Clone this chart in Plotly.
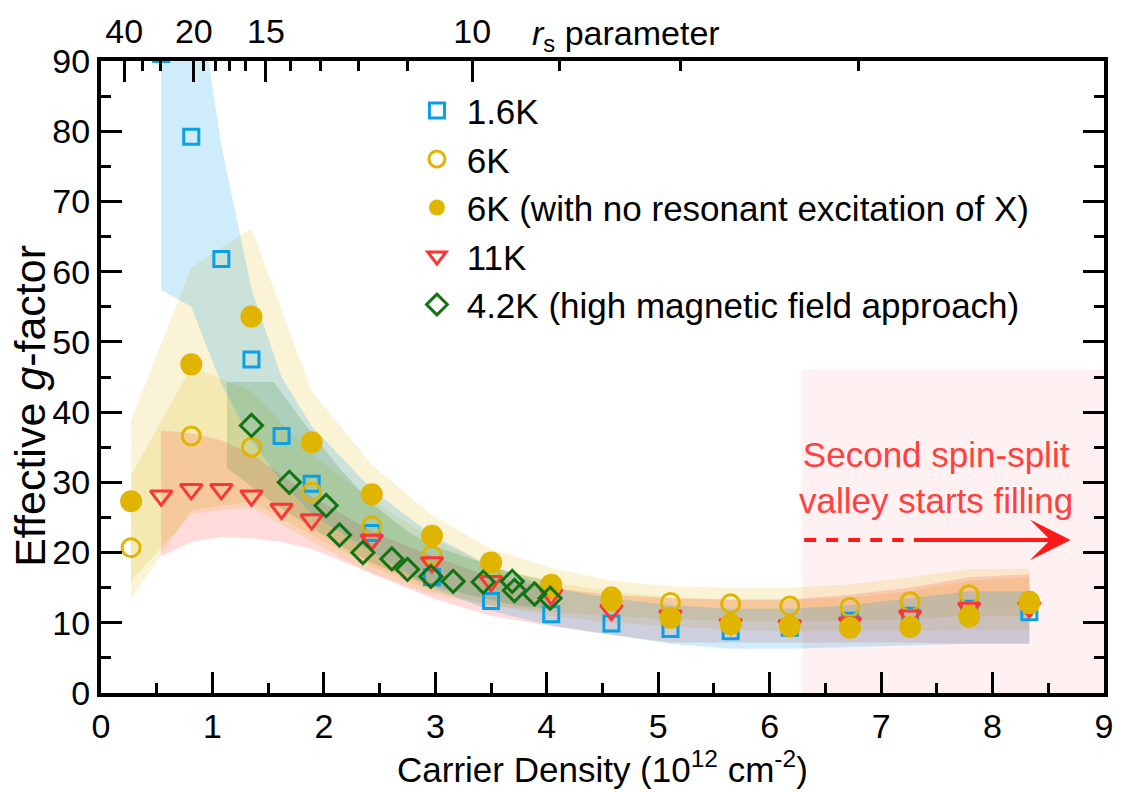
import plotly.graph_objects as go

# ---------------- data ----------------
density_1p6K = [0.54, 0.81, 1.08, 1.35, 1.62, 1.89, 2.43, 2.97, 3.50, 4.04, 4.58, 5.11, 5.65, 6.18, 6.72, 7.26, 7.79, 8.33]
g_1p6K = [91.0, 79.2, 61.8, 47.5, 36.6, 29.8, 22.8, 16.5, 13.1, 11.2, 9.9, 9.1, 8.8, 9.3, 10.3, 11.0, 12.0, 11.5]
band_1p6K_hi = [100, 106, 78, 57.5, 45, 38, 29, 22.5, 18, 15, 13.5, 12.5, 12, 12, 12.5, 13.5, 14.5, 14.5]
band_1p6K_lo = [57.4, 55, 44, 36, 30, 25.5, 20, 15, 11.7, 9.6, 8.3, 7.0, 6.3, 6.3, 6.5, 6.8, 7.0, 7.0]

density_6K = [0.27, 0.81, 1.35, 1.89, 2.43, 2.97, 3.50, 4.04, 4.58, 5.11, 5.65, 6.18, 6.72, 7.26, 7.79, 8.33]
g_6K_open = [20.7, 36.6, 35.0, 28.6, 23.8, 19.6, 16.5, 14.8, 13.7, 12.9, 12.7, 12.4, 12.2, 13.0, 14.0, 13.1]
band_6K_open_hi = [31, 46.4, 43, 34, 27.5, 22, 18, 15.8, 14.5, 13.6, 13.3, 13.3, 13.6, 14.5, 16, 16.5]
band_6K_open_lo = [15.9, 25.5, 26.5, 21.5, 17, 14, 12.5, 11.5, 11, 10.5, 10.3, 10.3, 10.3, 10.5, 11, 11]

g_6K_filled = [27.3, 46.8, 53.6, 35.7, 28.3, 22.4, 18.6, 15.4, 13.2, 10.7, 9.8, 9.5, 9.3, 9.4, 10.9, 12.8]
band_6K_filled_hi = [38.8, 60.6, 66.2, 43, 32.5, 25.3, 20.5, 17.8, 16, 15.2, 15, 15, 15.5, 16.5, 17.7, 17.7]
band_6K_filled_lo = [13.4, 26, 27.3, 22.5, 18, 14.5, 12.5, 11, 10, 9.5, 9, 8.8, 8.8, 8.8, 9, 9]

density_11K = [0.54, 0.81, 1.08, 1.35, 1.62, 1.89, 2.43, 2.97, 3.50, 4.04, 4.58, 5.11, 5.65, 6.18, 6.72, 7.26, 7.79, 8.33]
g_11K = [28.1, 29.0, 29.0, 28.1, 26.2, 24.7, 21.8, 18.6, 15.9, 14.0, 11.8, 11.0, 9.8, 9.6, 10.0, 11.0, 12.1, 12.2]
band_11K_hi = [37.4, 37, 36, 34, 31, 28, 23, 19.5, 16.5, 15, 14, 13.5, 13.3, 13.3, 14, 15, 16.5, 16.9]
band_11K_lo = [19.4, 21.5, 22.2, 22, 21.5, 20.5, 17, 13.5, 11, 9.5, 8.3, 7.2, 7.2, 7.2, 7.2, 7.2, 7.0, 7.0]

density_4K = [1.35, 1.69, 2.02, 2.14, 2.35, 2.61, 2.75, 2.96, 3.16, 3.43, 3.69, 3.71, 3.89, 4.03]
g_4K = [38.1, 30.0, 26.7, 22.5, 20.0, 19.1, 17.6, 16.6, 15.9, 15.8, 15.9, 14.6, 14.1, 13.5]
band_4K_x = [1.13, 1.55, 1.89, 2.14, 2.43, 2.75, 2.97, 3.43, 3.71, 4.03]
band_4K_hi = [44.3, 44.3, 37, 32, 27, 23, 21, 18.5, 17, 16]
band_4K_lo = [32, 27, 23.5, 21, 18.5, 16.5, 15.2, 13.5, 12.5, 12]

# top axis: r_s parameter, r_s = RS_CONST / sqrt(n)
RS_CONST = 18.25
rs_major = [40, 20, 15, 10]
rs_minor = [30, 25, 19, 18, 17, 16, 14, 13, 12, 11, 9, 8, 7]

second_valley_start = 6.29
second_valley_top = 46

legend_names = ["1.6K", "6K", "6K (with no resonant excitation of X)", "11K",
                "4.2K (high magnetic field approach)"]

# ---------------- styles ----------------
BLUE = "#0aa0e6"
GOLD = "#dfb500"
RED = "#ff3535"
GREEN = "#137313"
FONT = "Liberation Sans, Arial, sans-serif"
FS = 34
NB = "\u00a0"


def band(x, hi, lo, color):
    return go.Scatter(
        x=list(x) + list(x)[::-1],
        y=list(hi) + list(lo)[::-1],
        fill="toself", fillcolor=color, mode="lines",
        line=dict(width=0), hoverinfo="skip", showlegend=False,
    )


fig = go.Figure()

# bands
fig.add_trace(band(density_6K, band_6K_filled_hi, band_6K_filled_lo, "rgba(223,181,0,0.16)"))
fig.add_trace(band(density_6K, band_6K_open_hi, band_6K_open_lo, "rgba(223,181,0,0.16)"))
fig.add_trace(band(density_11K, band_11K_hi, band_11K_lo, "rgba(255,53,53,0.18)"))
fig.add_trace(band(density_1p6K, band_1p6K_hi, band_1p6K_lo, "rgba(10,160,230,0.20)"))
fig.add_trace(band(band_4K_x, band_4K_hi, band_4K_lo, "rgba(19,115,19,0.16)"))

# markers
fig.add_trace(go.Scatter(x=density_1p6K, y=g_1p6K, mode="markers", name=NB + legend_names[0], legendrank=1,
                         marker=dict(symbol="square-open", size=15, color=BLUE, line=dict(width=3, color=BLUE))))
fig.add_trace(go.Scatter(x=density_6K, y=g_6K_open, mode="markers", name=NB + legend_names[1], legendrank=2,
                         marker=dict(symbol="circle-open", size=18, color=GOLD, line=dict(width=3, color=GOLD))))
fig.add_trace(go.Scatter(x=density_11K, y=g_11K, mode="markers", name=NB + legend_names[3], legendrank=4,
                         marker=dict(symbol="triangle-down-open", size=19, color=RED, line=dict(width=3, color=RED))))
fig.add_trace(go.Scatter(x=density_6K, y=g_6K_filled, mode="markers", name=NB + legend_names[2], legendrank=3,
                         marker=dict(symbol="circle", size=22, color=GOLD, line=dict(width=0))))
fig.add_trace(go.Scatter(x=density_4K, y=g_4K, mode="markers", name=NB + legend_names[4], legendrank=5,
                         marker=dict(symbol="diamond-open", size=17, color=GREEN, line=dict(width=3, color=GREEN))))

# dummy trace for top axis
fig.add_trace(go.Scatter(x=[0, 9], y=[0, 0], xaxis="x2", mode="markers",
                         marker=dict(opacity=0), showlegend=False, hoverinfo="skip"))

rs_major_pos = [(RS_CONST / r) ** 2 for r in rs_major]
rs_minor_pos = [(RS_CONST / r) ** 2 for r in rs_minor]

axis_common = dict(showline=True, linecolor="black", linewidth=4, showgrid=False, zeroline=False,
                   ticks="inside", ticklen=21, tickwidth=3, tickcolor="black",
                   tickfont=dict(family=FONT, size=FS, color="black"))

fig.update_layout(
    width=1125, height=792,
    margin=dict(l=101, r=16, t=53, b=99),
    plot_bgcolor="white", paper_bgcolor="white",
    font=dict(family=FONT, size=FS, color="black"),
    xaxis=dict(range=[0, 9], tick0=0, dtick=1, mirror=False,
               minor=dict(dtick=0.5, ticks="inside", ticklen=10, tickwidth=3, tickcolor="black"),
               **axis_common),
    yaxis=dict(range=[0, 90], tick0=0, dtick=10, mirror="ticks",
               minor=dict(dtick=5, ticks="inside", ticklen=10, tickwidth=3, tickcolor="black"),
               **axis_common),
    xaxis2=dict(overlaying="x", side="top", range=[0, 9],
                tickmode="array", tickvals=rs_major_pos, ticktext=[str(r) for r in rs_major],
                minor=dict(tickmode="array", tickvals=rs_minor_pos, ticks="inside", ticklen=10,
                           tickwidth=3, tickcolor="black"),
                **axis_common),
    legend=dict(x=0.315, y=0.968, xanchor="left", yanchor="top", bgcolor="rgba(0,0,0,0)",
                font=dict(family=FONT, size=35, color="black"), traceorder="normal"),
    shapes=[
        dict(type="rect", xref="x", yref="y", x0=second_valley_start, x1=9, y0=0, y1=second_valley_top,
             fillcolor="rgba(255,210,210,0.3)", line=dict(width=0), layer="below"),
        dict(type="line", xref="x", yref="y", x0=6.31, x1=7.20, y0=21.8, y1=21.8,
             line=dict(color="#ff1a1a", width=4, dash="12px,10px")),
    ],
    annotations=[
        dict(text="Effective <i>g</i>-factor", xref="paper", yref="paper", x=-0.0704, y=0.455,
             xanchor="center", yanchor="middle",
             textangle=-90, showarrow=False, font=dict(family=FONT, size=43, color="black")),
        dict(text="Carrier Density (10<sup>12</sup> cm<sup>-2</sup>)", xref="paper", yref="paper",
             x=0.5, y=-0.117, showarrow=False, xanchor="center", yanchor="middle",
             font=dict(family=FONT, size=35, color="black")),
        dict(text="<i>r</i><sub>s</sub> parameter", xref="paper", yref="paper", x=0.523, y=1.04,
             showarrow=False, xanchor="center", yanchor="middle",
             font=dict(family=FONT, size=FS, color="black")),
        dict(text="Second spin-split<br>valley starts filling", xref="x", yref="y", x=7.49, y=30.7,
             showarrow=False, font=dict(family=FONT, size=35, color="#ff4040")),
        dict(text="", x=8.70, y=21.8, ax=7.28, ay=21.8, xref="x", yref="y", axref="x", ayref="y",
             showarrow=True, arrowhead=3, arrowsize=1.7, arrowwidth=4, arrowcolor="#ff1a1a", standoff=0),
    ],
)

fig.write_html("out.html")
